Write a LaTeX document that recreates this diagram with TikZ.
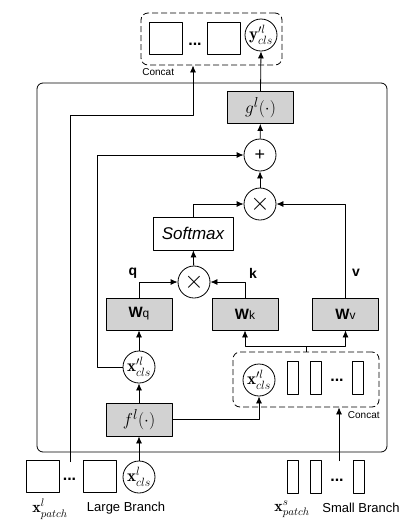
\documentclass[tikz,border=0pt]{standalone}
\usepackage{amsmath,amssymb}
\usepackage{fontspec}
\setsansfont{Liberation Sans}
\usetikzlibrary{arrows.meta,calc}

\begin{document}
\begin{tikzpicture}[x=1pt,y=-1pt,>={Latex[length=7pt,width=6pt]},
    line width=.8pt,line join=round,
    wbox/.style={draw,fill=gray!35,minimum width=66pt,minimum height=32pt,
      inner sep=0pt},
    opnode/.style={draw,circle,fill=white,minimum size=32pt,inner sep=0pt},
    tokcirc/.style={draw,circle,fill=white,minimum size=32pt,inner sep=-9pt,
      font=\fontsize{17}{17}\selectfont},
    patchbox/.style={draw,minimum width=33pt,minimum height=32pt,inner sep=0pt},
    tokbox/.style={draw,minimum width=11pt,minimum height=33pt,inner sep=0pt},
    catbox/.style={draw,dash pattern=on 6pt off 3pt,rounded corners=7pt,
      inner sep=0pt},
    dotsnode/.style={font=\sffamily\bfseries\fontsize{16}{16}\selectfont,
      inner sep=0pt},
    lbl/.style={font=\sffamily\fontsize{13}{13}\selectfont,inner sep=0pt},
    catlbl/.style={font=\sffamily\fontsize{10}{10}\selectfont,inner sep=0pt},
    qkv/.style={font=\sffamily\bfseries\fontsize{14}{14}\selectfont,
      inner sep=0pt}]
    \useasboundingbox (0,0) rectangle (418,531);

    % Outer cross-attention block.
    \draw[rounded corners=6pt] (37,83) rectangle (387,452);

    % Output tokens of the large branch.
    \node[catbox,minimum width=141pt,minimum height=52pt] (topcat)
      at (211.5,39) {};
    \node[catlbl,anchor=north west] (topcatlbl) at (142,68) {Concat};
    \node[patchbox] (outa) at (166,38.5) {};
    \node[dotsnode] (outdots) at (195,44) {...};
    \node[patchbox] (outb) at (223.5,38.5) {};
    \node[tokcirc] (ycls) at (261,35) {$\mathbf{y}'^{l}_{cls}$};

    % Projection and fusion.
    \node[wbox] (g) at (260.5,107.5) {\fontsize{19}{19}\selectfont$g^{l}(\cdot)$};
    \node[opnode] (plus) at (260,155) {\sffamily\fontsize{18}{18}\selectfont+};
    \node[opnode] (mulv) at (260,204) {\fontsize{24}{24}\selectfont$\times$};
    \node[draw,fill=white,minimum width=80pt,minimum height=33pt,inner sep=0pt,
      font=\sffamily\itshape\fontsize{17}{17}\selectfont] (soft)
      at (193,233.5) {Softmax};
    \node[opnode] (mulqk) at (194,282) {\fontsize{24}{24}\selectfont$\times$};

    \node[qkv] (qlbl) at (133,273) {q};
    \node[qkv] (klbl) at (253,273) {k};
    \node[qkv] (vlbl) at (356,273) {v};

    \node[wbox] (wq) at (139,314) {\sffamily{\bfseries\fontsize{15}{15}\selectfont
      W}{\fontsize{12}{12}\selectfont q}};
    \node[wbox] (wk) at (245,314) {\sffamily{\bfseries\fontsize{15}{15}\selectfont
      W}{\fontsize{12}{12}\selectfont k}};
    \node[wbox] (wv) at (345.5,314) {\sffamily{\bfseries\fontsize{15}{15}\selectfont
      W}{\fontsize{12}{12}\selectfont v}};

    \node[tokcirc] (xmid) at (139,367) {$\mathbf{x}'^{l}_{cls}$};
    \node[wbox,minimum height=33pt] (f) at (139,419.5)
      {\fontsize{19}{19}\selectfont$f^{l}(\cdot)$};

    % Concatenation with the small branch patches.
    \node[catbox,minimum width=146pt,minimum height=55pt] (midcat)
      at (306,379.5) {};
    \node[catlbl,anchor=north east] (midcatlbl) at (380,411) {Concat};
    \node[tokcirc] (xright) at (259,380) {$\mathbf{x}'^{l}_{cls}$};
    \node[tokbox] (mta) at (292.5,377.5) {};
    \node[tokbox] (mtb) at (315.5,377.5) {};
    \node[dotsnode] (mdots) at (337,380) {...};
    \node[tokbox] (mtc) at (358,377.5) {};

    % Inputs: large branch.
    \node[patchbox] (pa) at (42.5,476) {};
    \node[dotsnode] (pdots) at (69.5,479) {...};
    \node[patchbox] (pb) at (100,476) {};
    \node[tokcirc] (xin) at (139,477) {$\mathbf{x}^{l}_{cls}$};
    \node[font=\fontsize{16}{16}\selectfont,inner sep=0pt] (plbl) at (50,509)
      {$\mathbf{x}^{l}_{patch}$};
    \node[lbl] (largelbl) at (126,508) {Large Branch};

    % Inputs: small branch.
    \node[tokbox] (sa) at (292.5,477) {};
    \node[tokbox] (sb) at (315.5,477) {};
    \node[dotsnode] (sdots) at (337,480) {...};
    \node[tokbox] (sc) at (358.5,477) {};
    \node[font=\fontsize{16}{16}\selectfont,inner sep=0pt] (slbl) at (292,509)
      {$\mathbf{x}^{s}_{patch}$};
    \node[lbl] (smalllbl) at (361,508) {Small Branch};

    % Connections.
    \draw[->] (xin) -- (f);
    \draw[->] (f) -- (xmid);
    \draw[->] (xmid) -- (wq);
    \draw[->] (f.east) -| (xright.south);
    \draw[->] (xmid.west) -- ++(-25,0) |- (plus.west);
    \draw[->] (wq.north) |- (mulqk.west);
    \draw[->] (wk.north) |- (mulqk.east);
    \draw[->] (mulqk) -- (soft);
    \draw[->] (soft.north) |- (mulv.west);
    \draw[->] (wv.north) |- (mulv.east);
    \draw[->] (mulv) -- (plus);
    \draw[->] (plus) -- (g);
    \draw[->] (g.north) -- (ycls.south);
    \draw[->] (midcat.north) -- ++(0,-5) -| (wk.south);
    \draw[->] (midcat.north) -- ++(0,-5) -| (wv.south);

    \coordinate (lsrc) at (70,462);
    \coordinate (lturn) at (193,115);
    \draw[->] (lsrc) |- (lturn) -- (lturn |- topcat.south);
    \coordinate (ssrc) at (339,461);
    \draw[->] (ssrc) -- (ssrc |- midcat.south);
  \end{tikzpicture}
\end{document}
